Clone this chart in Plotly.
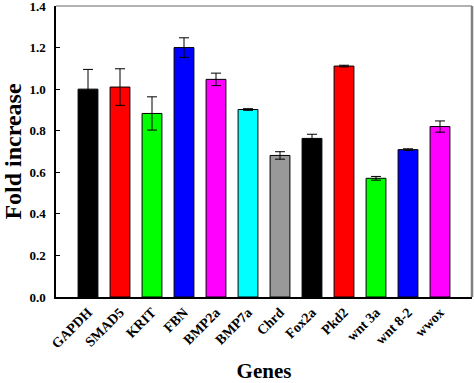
import plotly.graph_objects as go

genes = ["GAPDH", "SMAD5", "KRIT", "FBN", "BMP2a", "BMP7a", "Chrd", "Fox2a", "Pkd2", "wnt 3a", "wnt 8-2", "wwox"]
values = [1.00, 1.01, 0.883, 1.20, 1.047, 0.902, 0.681, 0.763, 1.111, 0.571, 0.709, 0.820]
errors = [0.095, 0.088, 0.08, 0.047, 0.03, 0.004, 0.018, 0.02, 0.004, 0.009, 0.004, 0.027]
colors = ["#000000", "#ff0000", "#00ff00", "#0000ff", "#ff00ff", "#00ffff",
          "#999999", "#000000", "#ff0000", "#00ff00", "#0000ff", "#ff00ff"]
yticks = [0.0, 0.2, 0.4, 0.6, 0.8, 1.0, 1.2, 1.4]

FONT = "Liberation Serif"

fig = go.Figure()
fig.add_trace(go.Bar(
    x=list(range(len(genes))), y=values,
    marker=dict(color=colors, line=dict(color="#000000", width=1)),
    width=0.62,
    error_y=dict(type="data", array=errors, visible=True, color="#000000", thickness=1, width=5),
    showlegend=False,
))

fig.update_layout(
    width=474, height=383,
    margin=dict(l=56, r=2, t=6, b=86),
    paper_bgcolor="white", plot_bgcolor="white",
    font=dict(family=FONT, color="#000000"),
    xaxis=dict(
        range=[-1, 12], automargin=False,
        tickmode="array", tickvals=list(range(len(genes))), ticktext=genes,
        tickangle=-45, ticks="",
        tickfont=dict(family=FONT, size=14, weight="bold"),
        showline=True, linecolor="#000000", linewidth=1.5, mirror=False,
        showgrid=False, zeroline=False,
        title=dict(text="Genes", font=dict(family=FONT, size=21, weight="bold"), standoff=21),
    ),
    yaxis=dict(
        range=[0, 1.4], automargin=False,
        tickmode="array", tickvals=yticks, ticktext=[f"{v:.1f}" for v in yticks],
        ticks="inside", ticklen=4, tickcolor="#000000",
        ticklabelstandoff=6, ticklabeloverflow="allow",
        tickfont=dict(family=FONT, size=13, weight="bold"),
        showline=True, linecolor="#000000", linewidth=1.5,
        showgrid=False, zeroline=False,
        title=dict(text="Fold increase", font=dict(family=FONT, size=24, weight="bold"), standoff=7),
    ),
    shapes=[
        dict(type="line", xref="paper", yref="paper", x0=0, x1=1, y0=1, y1=1,
             line=dict(color="#999999", width=1.5)),
        dict(type="line", xref="paper", yref="paper", x0=1, x1=1, y0=0, y1=1,
             line=dict(color="#808080", width=2.5)),
    ],
)

fig.write_html("out.html")
